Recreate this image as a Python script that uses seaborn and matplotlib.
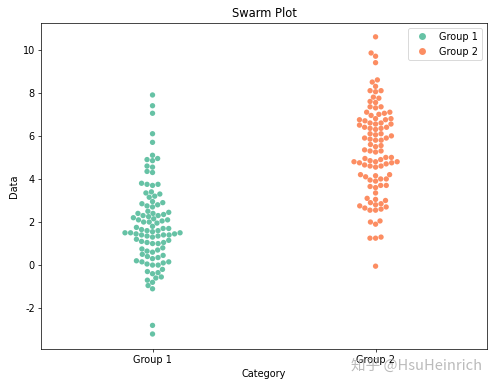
import numpy as np
import pandas as pd
import seaborn as sns
import matplotlib.pyplot as plt

plt.rcParams['axes.unicode_minus'] = False
plt.rcParams['font.size'] = 11

categories = ['Group 1', 'Group 2']
group1 = [7.9, 7.4, 7.05, 6.1, 5.7, 5.1, 4.95, 4.9, 4.85, 4.6, 4.55, 4.35, 4.3,
          3.8, 3.75, 3.75, 3.7, 3.4, 3.35, 3.3, 3.2, 3.15, 2.95, 2.9, 2.85, 2.8,
          2.75, 2.7, 2.5, 2.45, 2.4, 2.4, 2.35, 2.3, 2.3, 2.25, 2.2, 2.15, 2.1,
          2.1, 2.05, 2.0, 2.0, 1.95, 1.8, 1.75, 1.7, 1.7, 1.65, 1.6, 1.6, 1.55,
          1.5, 1.5, 1.5, 1.45, 1.45, 1.4, 1.4, 1.4, 1.35, 1.35, 1.3, 1.2, 1.15,
          1.1, 1.05, 1.05, 1.0, 1.0, 0.8, 0.75, 0.7, 0.65, 0.6, 0.5, 0.45, 0.4,
          0.35, 0.3, 0.2, 0.15, 0.15, 0.1, 0.05, 0.0, 0.0, -0.2, -0.3, -0.35,
          -0.4, -0.55, -0.6, -0.7, -0.8, -0.95, -1.1, -2.8, -3.2]
group2 = [10.6, 9.85, 9.7, 9.4, 8.6, 8.5, 8.3, 8.1, 8.1, 8.05, 7.8, 7.75, 7.6,
          7.55, 7.35, 7.35, 7.3, 7.1, 7.1, 7.05, 7.0, 6.95, 6.8, 6.8, 6.75, 6.75,
          6.7, 6.6, 6.6, 6.55, 6.55, 6.5, 6.4, 6.4, 6.35, 6.35, 6.3, 6.1, 6.1,
          6.05, 6.0, 5.9, 5.9, 5.85, 5.8, 5.8, 5.6, 5.55, 5.5, 5.35, 5.3, 5.3,
          5.25, 5.0, 5.0, 4.95, 4.9, 4.85, 4.8, 4.8, 4.8, 4.75, 4.75, 4.7, 4.65,
          4.6, 4.6, 4.55, 4.2, 4.2, 4.15, 4.1, 4.0, 4.0, 3.95, 3.9, 3.7, 3.7,
          3.65, 3.6, 3.35, 3.1, 3.05, 3.0, 2.9, 2.85, 2.8, 2.75, 2.7, 2.65, 2.6,
          2.55, 2.55, 2.05, 2.0, 1.9, 1.3, 1.25, 1.25, -0.05]

df = pd.DataFrame({
    'Category': [categories[0]] * len(group1) + [categories[1]] * len(group2),
    'Data': group1 + group2,
})

fig = plt.figure(figsize=(494 / 64, 387 / 64), dpi=64)
ax = fig.add_axes([0.083, 0.098, 0.903, 0.843])
sns.swarmplot(data=df, x='Category', y='Data', hue='Category',
              palette='Set2', size=6, linewidth=0, legend=True, ax=ax)
ax.set_title('Swarm Plot', fontsize=13)
ax.set_ylim(-3.9, 11.25)
ax.legend(loc='upper right', markerscale=1.3)

fig.text(0.976, 0.054, '知乎 @HsuHeinrich', ha='right', va='center',
         fontsize=16.5, color='#aaaaaa', alpha=0.8,
         family=['Noto Sans CJK SC', 'DejaVu Sans'])

fig.savefig('out.png', dpi=64)
